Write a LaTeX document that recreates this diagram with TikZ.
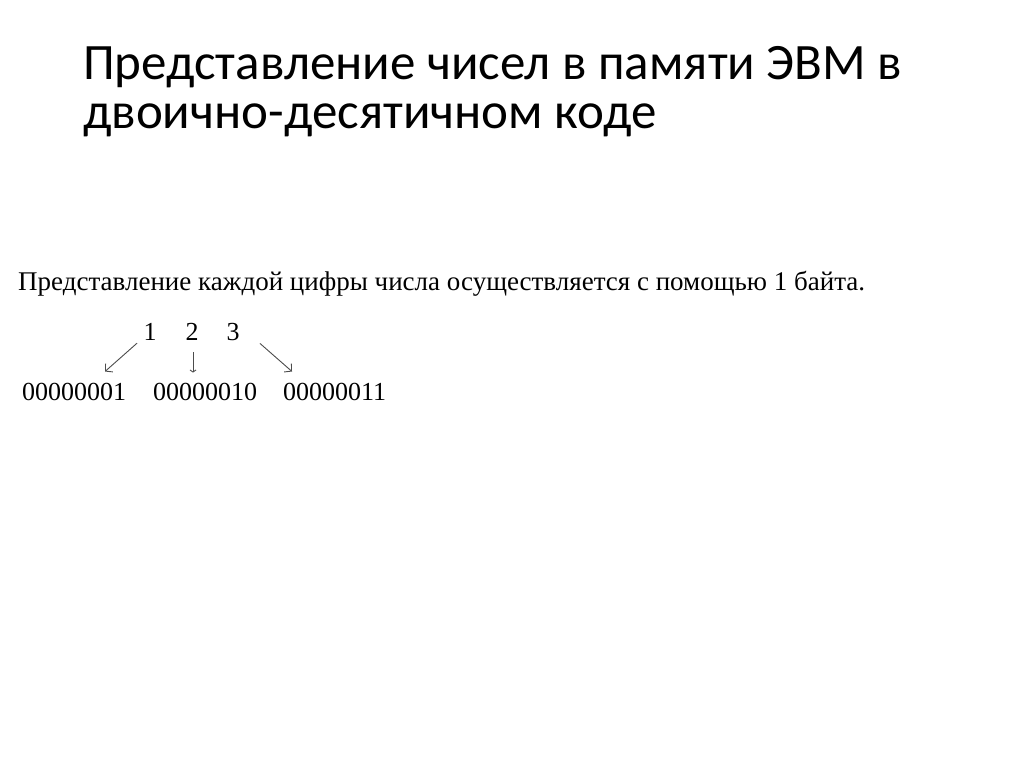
\documentclass[tikz,border=0pt]{standalone}
\usepackage{fontspec}
\setmainfont{Liberation Serif}
\newfontfamily\titlefont{Carlito}
\usetikzlibrary{arrows.meta}
\begin{document}
\begin{tikzpicture}[x=1pt,y=-1pt,
  titletext/.style={anchor=base west, inner sep=0pt, font=\titlefont\fontsize{51}{60}\selectfont},
  bodytext/.style={anchor=base west, inner sep=0pt, font=\fontsize{27}{32}\selectfont},
  bintext/.style={anchor=base west, inner sep=0pt, font=\fontsize{26}{30}\selectfont},
  digit/.style={anchor=base, inner sep=0pt, font=\fontsize{26}{30}\selectfont},
  arr/.style={draw=black!70, line width=0.9pt, -{Straight Barb[length=5pt,width=11pt]}},
  smallarr/.style={draw=black!70, line width=0.9pt, -{Straight Barb[length=2pt,width=6pt]}}]
\path[use as bounding box, fill=white] (0,0) rectangle (1024,767);
\node[titletext] (t1) at (83,80) {Представление чисел в памяти ЭВМ в};
\node[titletext] (t2) at (83,129) {двоично-десятичном коде};
\node[bodytext] (body) at (18,290) {Представление каждой цифры числа осуществляется с помощью 1 байта.};
\node[digit] (n1) at (150,340) {1};
\node[digit] (n2) at (192,340) {2};
\node[digit] (n3) at (233,340) {3};
\node[bintext] (b1) at (22,400) {00000001};
\node[bintext] (b2) at (153,400) {00000010};
\node[bintext] (b3) at (283,400) {00000011};
\draw[arr] ([shift={(-13,3)}]n1.south) -- ([shift={(83,-11)}]b1.north west);
\draw[smallarr] ([shift={(1,12)}]n2.south) -- ([shift={(40,-10)}]b2.north west);
\draw[arr] ([shift={(27,3)}]n3.south) -- ([shift={(9,-11)}]b3.north west);
\end{tikzpicture}
\end{document}
